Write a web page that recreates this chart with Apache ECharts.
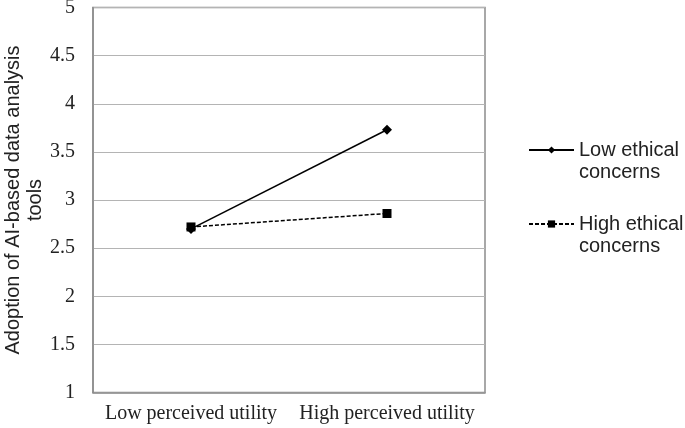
<!DOCTYPE html>
<html lang="en">

<head>
    <meta charset="UTF-8">
    <title>Adoption of AI-based data analysis tools</title>
    <style>
        html, body { margin: 0; padding: 0; background: #fff; }
    </style>
</head>

<body>
    <div id="container" style="width: 685px;height: 428px;"></div>
</body>

<script src="https://cdn.jsdelivr.net/npm/echarts@6/dist/echarts.min.js"></script>

<script>
  // data
  var categories = ['Low perceived utility', 'High perceived utility'];
  var lowEthical = [2.70, 3.73];
  var highEthical = [2.72, 2.86];
  var seriesNames = ['Low ethical concerns', 'High ethical concerns'];
  var legendLabels = {
    'Low ethical concerns': 'Low ethical\nconcerns',
    'High ethical concerns': 'High ethical\nconcerns'
  };

  var serif = '"Liberation Serif", "Times New Roman", serif';
  var sans = '"Liberation Sans", Arial, sans-serif';

  var myChart = echarts.init(document.getElementById('container'));
  var option = {
    backgroundColor: '#fff',
    animation: false,
    grid: {
      left: 93,
      right: 200,
      top: 7.5,
      bottom: 35.5,
      outerBoundsMode: 'none',
      containLabel: false,
      show: true,
      borderColor: '#8c8c8c',
      borderWidth: 1.5
    },
    legend: {
      orient: 'vertical',
      left: 528,
      top: 117,
      padding: 0,
      itemWidth: 45,
      itemHeight: 9,
      itemGap: 8,
      // blank first line keeps the icon level with the first text line
      formatter: function (name) {
        return ' \n' + legendLabels[name];
      },
      textStyle: {
        fontFamily: sans,
        fontSize: 20,
        color: '#222',
        lineHeight: 22
      },
      data: seriesNames
    },
    xAxis: {
      type: 'category',
      data: categories,
      boundaryGap: true,
      axisTick: { show: false },
      axisLine: { lineStyle: { color: '#8c8c8c', width: 1.5 } },
      axisLabel: {
        interval: 0,
        hideOverlap: false,
        fontFamily: serif,
        fontSize: 20,
        color: '#222',
        margin: 11
      }
    },
    yAxis: {
      type: 'value',
      min: 1,
      max: 5,
      interval: 0.5,
      name: 'Adoption of AI-based data analysis\ntools',
      nameLocation: 'middle',
      nameRotate: 90,
      nameGap: 47,
      nameMoveOverlap: false,
      nameTextStyle: {
        fontFamily: sans,
        fontSize: 20,
        color: '#222',
        lineHeight: 22
      },
      axisTick: { show: false },
      axisLine: { show: true, lineStyle: { color: '#8c8c8c', width: 1.5 } },
      splitLine: { lineStyle: { color: '#b4b4b4', width: 1.2 } },
      axisLabel: {
        fontFamily: serif,
        fontSize: 20,
        color: '#222',
        margin: 18
      }
    },
    series: [{
      name: seriesNames[0],
      type: 'line',
      data: lowEthical,
      symbol: 'diamond',
      symbolSize: 10,
      z: 3,
      itemStyle: { color: '#000' },
      lineStyle: { color: '#000', width: 1.5, type: 'solid' }
    }, {
      name: seriesNames[1],
      type: 'line',
      data: highEthical,
      symbol: 'rect',
      symbolSize: 9,
      z: 2,
      itemStyle: { color: '#000' },
      lineStyle: { color: '#000', width: 1.5, type: [4, 2] }
    }]
  };
  myChart.setOption(option);
</script>

</html>
